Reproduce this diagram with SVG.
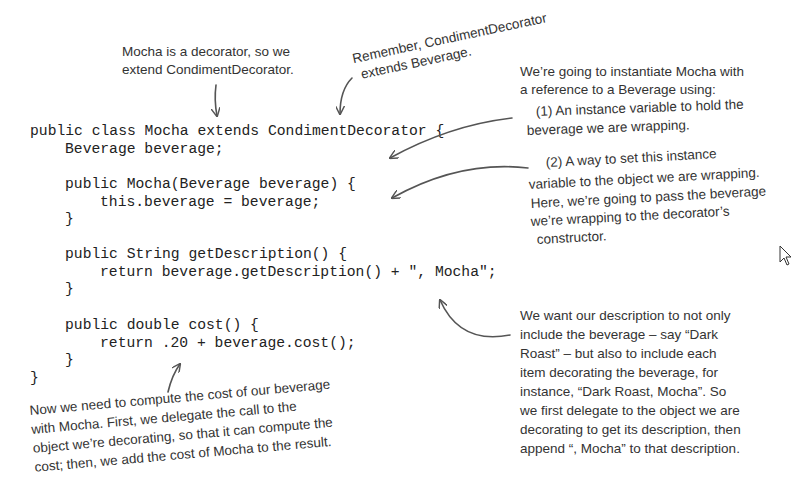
<svg xmlns="http://www.w3.org/2000/svg" width="792" height="494" viewBox="0 0 792 494">
<style>
.code{font-family:"Liberation Mono",monospace;font-size:14.7px;fill:#222}
.note{font-family:"Liberation Sans",sans-serif;font-size:13.5px;fill:#333}
.arr{fill:none;stroke:#555;stroke-width:1.6;stroke-linecap:round}
</style>
<defs><marker id="ah" viewBox="0 0 10 10" refX="9" refY="5" markerWidth="9" markerHeight="9" orient="auto" markerUnits="userSpaceOnUse"><path d="M0,0 L10,5 L0,10" fill="none" stroke="#555" stroke-width="1.6"/></marker></defs>
<rect width="792" height="494" fill="#fff"/>
<g id="code" class="code">
<text x="30" y="135">public class Mocha extends CondimentDecorator {</text>
<text x="65" y="153">Beverage beverage;</text>
<text x="65" y="188">public Mocha(Beverage beverage) {</text>
<text x="100" y="206">this.beverage = beverage;</text>
<text x="65" y="223">}</text>
<text x="65" y="258">public String getDescription() {</text>
<text x="100" y="276">return beverage.getDescription() + ", Mocha";</text>
<text x="65" y="293">}</text>
<text x="65" y="329">public double cost() {</text>
<text x="100" y="347">return .20 + beverage.cost();</text>
<text x="65" y="364">}</text>
<text x="30" y="382">}</text>
</g>
<g id="note1" class="note">
<text x="122" y="56">Mocha is a decorator, so we</text>
<text x="122" y="74">extend CondimentDecorator.</text>
</g>
<g id="note2" class="note" transform="rotate(-12 355 70)">
<text x="355" y="63">Remember, CondimentDecorator</text>
<text x="360" y="80">extends Beverage.</text>
</g>
<g id="note3" class="note">
<text x="520" y="76">We’re going to instantiate Mocha with</text>
<text x="520" y="94">a reference to a Beverage using:</text>
<text x="536" y="116" transform="rotate(-2 536 116)">(1)  An instance variable to hold the</text>
<text x="527" y="135" transform="rotate(-2 527 135)">beverage we are wrapping.</text>
<text x="546" y="167" transform="rotate(-3 546 167)">(2)  A way to set this instance</text>
<text x="529" y="189" transform="rotate(-3 529 189)">variable to the object we are wrapping.</text>
<text x="531" y="208" transform="rotate(-3 531 208)">Here, we’re going to pass the beverage</text>
<text x="531" y="226" transform="rotate(-3 531 226)">we’re wrapping to the decorator’s</text>
<text x="537" y="244" transform="rotate(-3 537 244)">constructor.</text>
</g>
<g id="note4" class="note">
<text x="520" y="320">We want our description to not only</text>
<text x="520" y="339">include the beverage – say “Dark</text>
<text x="520" y="358">Roast” – but also to include each</text>
<text x="520" y="377">item decorating the beverage, for</text>
<text x="520" y="396">instance, “Dark Roast, Mocha”. So</text>
<text x="520" y="415">we first delegate to the object we are</text>
<text x="520" y="434">decorating to get its description, then</text>
<text x="520" y="453">append “, Mocha” to that description.</text>
</g>
<g id="note5" class="note" transform="rotate(-5 30 415)">
<text x="30" y="415">Now we need to compute the cost of our beverage</text>
<text x="30" y="434">with Mocha.  First, we delegate the call to the</text>
<text x="30" y="453">object we’re decorating, so that it can compute the</text>
<text x="30" y="472">cost; then, we add the cost of Mocha to the result.</text>
</g>
<g id="cursor"><path d="M780,246 L780,262 L784,258 L787,265 L789,264 L786,257 L791,257 Z" fill="#fff" stroke="#333" stroke-width="1"/></g>
<g id="connectors">
<path class="arr" marker-end="url(#ah)" d="M216,85 Q214,100 217,116"/>
<path class="arr" marker-end="url(#ah)" d="M352,78 Q340,90 340,114"/>
<path class="arr" marker-end="url(#ah)" d="M512,118 Q450,125 390,158"/>
<path class="arr" marker-end="url(#ah)" d="M528,168 Q460,160 392,198"/>
<path class="arr" marker-end="url(#ah)" d="M510,335 Q460,345 440,300"/>
<path class="arr" marker-end="url(#ah)" d="M168,392 Q172,375 180,364"/>
</g>
</svg>
